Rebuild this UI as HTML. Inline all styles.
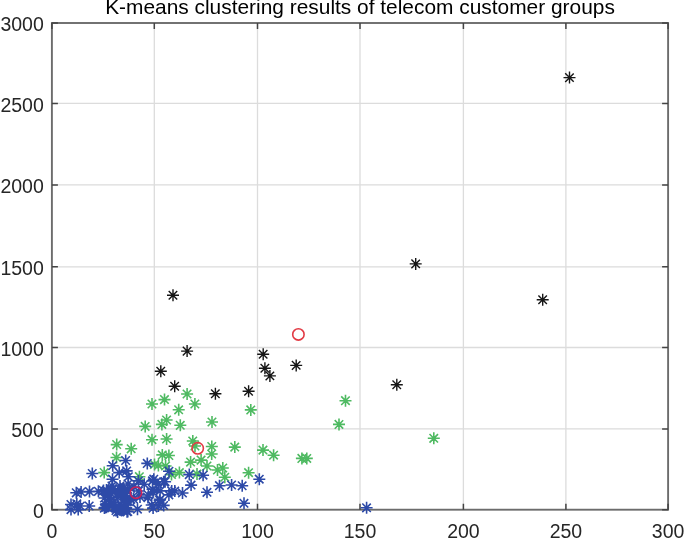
<!DOCTYPE html>
<html><head><meta charset="utf-8"><style>
html,body{margin:0;padding:0;background:#fff;}
body{width:685px;height:539px;overflow:hidden;}
svg{display:block;}
text{font-family:"Liberation Sans",Arial,sans-serif;}
</style></head><body>
<svg width="685" height="539" viewBox="0 0 685 539">
<rect width="685" height="539" fill="#fff"/>
<path d="M154.3 23.0V509.7M257.5 23.0V509.7M360.0 23.0V509.7M463.4 23.0V509.7M565.9 23.0V509.7M51.9 428.9H668.1M51.9 347.5H668.1M51.9 266.8H668.1M51.9 184.9H668.1M51.9 103.4H668.1" stroke="#dcdcdc" stroke-width="1.3" fill="none"/>
<rect x="51.9" y="23.0" width="616.2" height="486.7" fill="none" stroke="#6c6c6c" stroke-width="1.9"/>
<path d="M51.9 509.7v-6M51.9 23.0v6M154.3 509.7v-6M154.3 23.0v6M257.5 509.7v-6M257.5 23.0v6M360.0 509.7v-6M360.0 23.0v6M463.4 509.7v-6M463.4 23.0v6M565.9 509.7v-6M565.9 23.0v6M668.1 509.7v-6M668.1 23.0v6M51.9 509.7h6M668.1 509.7h-6M51.9 428.9h6M668.1 428.9h-6M51.9 347.5h6M668.1 347.5h-6M51.9 266.8h6M668.1 266.8h-6M51.9 184.9h6M668.1 184.9h-6M51.9 103.4h6M668.1 103.4h-6M51.9 23.0h6M668.1 23.0h-6" stroke="#444" stroke-width="1.5" fill="none"/>
<path d="M563.5 77.6h12.0M569.5 71.6v12.0M565.2 73.3l8.5 8.5M565.2 81.9l8.5 -8.5M409.7 263.9h12.0M415.7 257.9v12.0M411.4 259.6l8.5 8.5M411.4 268.2l8.5 -8.5M536.7 299.7h12.0M542.7 293.7v12.0M538.4 295.4l8.5 8.5M538.4 304.0l8.5 -8.5M167.0 295.3h12.0M173.0 289.3v12.0M168.7 291.0l8.5 8.5M168.7 299.6l8.5 -8.5M181.1 351.1h12.0M187.1 345.1v12.0M182.8 346.8l8.5 8.5M182.8 355.4l8.5 -8.5M257.2 354.2h12.0M263.2 348.2v12.0M258.9 349.9l8.5 8.5M258.9 358.5l8.5 -8.5M290.2 365.4h12.0M296.2 359.4v12.0M291.9 361.1l8.5 8.5M291.9 369.7l8.5 -8.5M154.8 371.2h12.0M160.8 365.2v12.0M156.5 366.9l8.5 8.5M156.5 375.5l8.5 -8.5M258.9 368.2h12.0M264.9 362.2v12.0M260.6 363.9l8.5 8.5M260.6 372.5l8.5 -8.5M263.9 375.9h12.0M269.9 369.9v12.0M265.6 371.6l8.5 8.5M265.6 380.2l8.5 -8.5M168.7 386.2h12.0M174.7 380.2v12.0M170.4 381.9l8.5 8.5M170.4 390.5l8.5 -8.5M209.4 393.8h12.0M215.4 387.8v12.0M211.1 389.5l8.5 8.5M211.1 398.1l8.5 -8.5M242.6 391.2h12.0M248.6 385.2v12.0M244.3 386.9l8.5 8.5M244.3 395.5l8.5 -8.5M390.8 384.7h12.0M396.8 378.7v12.0M392.5 380.4l8.5 8.5M392.5 389.0l8.5 -8.5" stroke="#161616" stroke-width="1.4" fill="none"/>
<path d="M339.5 400.7h12.0M345.5 394.7v12.0M341.2 396.4l8.5 8.5M341.2 405.0l8.5 -8.5M333.0 424.4h12.0M339.0 418.4v12.0M334.7 420.1l8.5 8.5M334.7 428.7l8.5 -8.5M427.8 438.3h12.0M433.8 432.3v12.0M429.5 434.0l8.5 8.5M429.5 442.6l8.5 -8.5M181.1 394.0h12.0M187.1 388.0v12.0M182.8 389.7l8.5 8.5M182.8 398.3l8.5 -8.5M158.5 399.6h12.0M164.5 393.6v12.0M160.2 395.3l8.5 8.5M160.2 403.9l8.5 -8.5M146.0 404.0h12.0M152.0 398.0v12.0M147.7 399.7l8.5 8.5M147.7 408.3l8.5 -8.5M188.9 404.0h12.0M194.9 398.0v12.0M190.6 399.7l8.5 8.5M190.6 408.3l8.5 -8.5M172.7 409.8h12.0M178.7 403.8v12.0M174.4 405.5l8.5 8.5M174.4 414.1l8.5 -8.5M244.8 409.9h12.0M250.8 403.9v12.0M246.5 405.6l8.5 8.5M246.5 414.2l8.5 -8.5M160.6 420.0h12.0M166.6 414.0v12.0M162.3 415.7l8.5 8.5M162.3 424.3l8.5 -8.5M155.9 424.4h12.0M161.9 418.4v12.0M157.6 420.1l8.5 8.5M157.6 428.7l8.5 -8.5M139.2 426.4h12.0M145.2 420.4v12.0M140.9 422.1l8.5 8.5M140.9 430.7l8.5 -8.5M174.3 425.3h12.0M180.3 419.3v12.0M176.0 421.0l8.5 8.5M176.0 429.6l8.5 -8.5M206.0 422.0h12.0M212.0 416.0v12.0M207.7 417.7l8.5 8.5M207.7 426.3l8.5 -8.5M146.0 439.7h12.0M152.0 433.7v12.0M147.7 435.4l8.5 8.5M147.7 444.0l8.5 -8.5M160.6 439.0h12.0M166.6 433.0v12.0M162.3 434.7l8.5 8.5M162.3 443.3l8.5 -8.5M186.8 441.0h12.0M192.8 435.0v12.0M188.5 436.7l8.5 8.5M188.5 445.3l8.5 -8.5M205.8 446.5h12.0M211.8 440.5v12.0M207.5 442.2l8.5 8.5M207.5 450.8l8.5 -8.5M228.8 447.1h12.0M234.8 441.1v12.0M230.5 442.8l8.5 8.5M230.5 451.4l8.5 -8.5M257.0 450.1h12.0M263.0 444.1v12.0M258.7 445.8l8.5 8.5M258.7 454.4l8.5 -8.5M267.6 455.2h12.0M273.6 449.2v12.0M269.3 450.9l8.5 8.5M269.3 459.5l8.5 -8.5M295.9 458.4h12.0M301.9 452.4v12.0M297.6 454.1l8.5 8.5M297.6 462.7l8.5 -8.5M300.8 458.4h12.0M306.8 452.4v12.0M302.5 454.1l8.5 8.5M302.5 462.7l8.5 -8.5M110.7 444.6h12.0M116.7 438.6v12.0M112.4 440.3l8.5 8.5M112.4 448.9l8.5 -8.5M125.2 448.8h12.0M131.2 442.8v12.0M126.9 444.5l8.5 8.5M126.9 453.1l8.5 -8.5M110.5 457.5h12.0M116.5 451.5v12.0M112.2 453.2l8.5 8.5M112.2 461.8l8.5 -8.5M98.2 472.6h12.0M104.2 466.6v12.0M99.9 468.3l8.5 8.5M99.9 476.9l8.5 -8.5M133.4 476.7h12.0M139.4 470.7v12.0M135.1 472.4l8.5 8.5M135.1 481.0l8.5 -8.5M156.3 454.9h12.0M162.3 448.9v12.0M158.0 450.6l8.5 8.5M158.0 459.2l8.5 -8.5M162.9 455.5h12.0M168.9 449.5v12.0M164.6 451.2l8.5 8.5M164.6 459.8l8.5 -8.5M184.6 462.1h12.0M190.6 456.1v12.0M186.3 457.8l8.5 8.5M186.3 466.4l8.5 -8.5M195.1 460.1h12.0M201.1 454.1v12.0M196.8 455.8l8.5 8.5M196.8 464.4l8.5 -8.5M201.0 466.0h12.0M207.0 460.0v12.0M202.7 461.7l8.5 8.5M202.7 470.3l8.5 -8.5M205.7 454.0h12.0M211.7 448.0v12.0M207.4 449.7l8.5 8.5M207.4 458.3l8.5 -8.5M211.5 470.0h12.0M217.5 464.0v12.0M213.2 465.7l8.5 8.5M213.2 474.3l8.5 -8.5M216.8 468.0h12.0M222.8 462.0v12.0M218.5 463.7l8.5 8.5M218.5 472.3l8.5 -8.5M218.8 477.2h12.0M224.8 471.2v12.0M220.5 472.9l8.5 8.5M220.5 481.5l8.5 -8.5M152.4 465.4h12.0M158.4 459.4v12.0M154.1 461.1l8.5 8.5M154.1 469.7l8.5 -8.5M159.6 466.0h12.0M165.6 460.0v12.0M161.3 461.7l8.5 8.5M161.3 470.3l8.5 -8.5M173.4 472.6h12.0M179.4 466.6v12.0M175.1 468.3l8.5 8.5M175.1 476.9l8.5 -8.5M165.5 474.6h12.0M171.5 468.6v12.0M167.2 470.3l8.5 8.5M167.2 478.9l8.5 -8.5M242.6 472.7h12.0M248.6 466.7v12.0M244.3 468.4l8.5 8.5M244.3 477.0l8.5 -8.5M148.5 464.5h12.0M154.5 458.5v12.0M150.2 460.2l8.5 8.5M150.2 468.8l8.5 -8.5M189.0 446.0h12.0M195.0 440.0v12.0M190.7 441.7l8.5 8.5M190.7 450.3l8.5 -8.5M191.0 474.0h12.0M197.0 468.0v12.0M192.7 469.7l8.5 8.5M192.7 478.3l8.5 -8.5" stroke="#4fba62" stroke-width="1.6" fill="none"/>
<path d="M360.6 507.8h12.0M366.6 501.8v12.0M362.3 503.5l8.5 8.5M362.3 512.1l8.5 -8.5M253.3 479.2h12.0M259.3 473.2v12.0M255.0 474.9l8.5 8.5M255.0 483.5l8.5 -8.5M225.6 485.0h12.0M231.6 479.0v12.0M227.3 480.7l8.5 8.5M227.3 489.3l8.5 -8.5M236.2 485.8h12.0M242.2 479.8v12.0M237.9 481.5l8.5 8.5M237.9 490.1l8.5 -8.5M238.0 503.3h12.0M244.0 497.3v12.0M239.7 499.0l8.5 8.5M239.7 507.6l8.5 -8.5M141.3 463.4h12.0M147.3 457.4v12.0M143.0 459.1l8.5 8.5M143.0 467.7l8.5 -8.5M163.0 471.2h12.0M169.0 465.2v12.0M164.7 466.9l8.5 8.5M164.7 475.5l8.5 -8.5M183.3 474.6h12.0M189.3 468.6v12.0M185.0 470.3l8.5 8.5M185.0 478.9l8.5 -8.5M197.1 475.2h12.0M203.1 469.2v12.0M198.8 470.9l8.5 8.5M198.8 479.5l8.5 -8.5M185.1 485.1h12.0M191.1 479.1v12.0M186.8 480.8l8.5 8.5M186.8 489.4l8.5 -8.5M213.5 485.7h12.0M219.5 479.7v12.0M215.2 481.4l8.5 8.5M215.2 490.0l8.5 -8.5M201.0 492.3h12.0M207.0 486.3v12.0M202.7 488.0l8.5 8.5M202.7 496.6l8.5 -8.5M168.8 491.0h12.0M174.8 485.0v12.0M170.5 486.7l8.5 8.5M170.5 495.3l8.5 -8.5M176.5 493.0h12.0M182.5 487.0v12.0M178.2 488.7l8.5 8.5M178.2 497.3l8.5 -8.5M147.8 479.2h12.0M153.8 473.2v12.0M149.5 474.9l8.5 8.5M149.5 483.5l8.5 -8.5M152.4 484.4h12.0M158.4 478.4v12.0M154.1 480.1l8.5 8.5M154.1 488.7l8.5 -8.5M157.7 481.8h12.0M163.7 475.8v12.0M159.4 477.5l8.5 8.5M159.4 486.1l8.5 -8.5M147.1 492.3h12.0M153.1 486.3v12.0M148.8 488.0l8.5 8.5M148.8 496.6l8.5 -8.5M153.7 500.2h12.0M159.7 494.2v12.0M155.4 495.9l8.5 8.5M155.4 504.5l8.5 -8.5M147.1 508.1h12.0M153.1 502.1v12.0M148.8 503.8l8.5 8.5M148.8 512.4l8.5 -8.5M157.7 505.4h12.0M163.7 499.4v12.0M159.4 501.1l8.5 8.5M159.4 509.7l8.5 -8.5M162.9 494.9h12.0M168.9 488.9v12.0M164.6 490.6l8.5 8.5M164.6 499.2l8.5 -8.5M141.9 497.6h12.0M147.9 491.6v12.0M143.6 493.3l8.5 8.5M143.6 501.9l8.5 -8.5M119.7 460.5h12.0M125.7 454.5v12.0M121.4 456.2l8.5 8.5M121.4 464.8l8.5 -8.5M106.7 465.7h12.0M112.7 459.7v12.0M108.4 461.4l8.5 8.5M108.4 470.0l8.5 -8.5M86.3 473.5h12.0M92.3 467.5v12.0M88.0 469.2l8.5 8.5M88.0 477.8l8.5 -8.5M120.7 470.9h12.0M126.7 464.9v12.0M122.4 466.6l8.5 8.5M122.4 475.2l8.5 -8.5M113.2 472.6h12.0M119.2 466.6v12.0M114.9 468.3l8.5 8.5M114.9 476.9l8.5 -8.5M106.5 479.2h12.0M112.5 473.2v12.0M108.2 474.9l8.5 8.5M108.2 483.5l8.5 -8.5M122.4 476.7h12.0M128.4 470.7v12.0M124.1 472.4l8.5 8.5M124.1 481.0l8.5 -8.5M70.3 492.8h12.0M76.3 486.8v12.0M72.0 488.5l8.5 8.5M72.0 497.1l8.5 -8.5M75.1 492.0h12.0M81.1 486.0v12.0M76.8 487.7l8.5 8.5M76.8 496.3l8.5 -8.5M83.5 491.6h12.0M89.5 485.6v12.0M85.2 487.3l8.5 8.5M85.2 495.9l8.5 -8.5M92.4 491.3h12.0M98.4 485.3v12.0M94.1 487.0l8.5 8.5M94.1 495.6l8.5 -8.5M97.5 490.6h12.0M103.5 484.6v12.0M99.2 486.3l8.5 8.5M99.2 494.9l8.5 -8.5M65.0 504.5h12.0M71.0 498.5v12.0M66.7 500.2l8.5 8.5M66.7 508.8l8.5 -8.5M70.8 503.8h12.0M76.8 497.8v12.0M72.5 499.5l8.5 8.5M72.5 508.1l8.5 -8.5M74.4 506.0h12.0M80.4 500.0v12.0M76.1 501.7l8.5 8.5M76.1 510.3l8.5 -8.5M65.0 509.6h12.0M71.0 503.6v12.0M66.7 505.3l8.5 8.5M66.7 513.9l8.5 -8.5M72.2 509.6h12.0M78.2 503.6v12.0M73.9 505.3l8.5 8.5M73.9 513.9l8.5 -8.5M83.2 506.0h12.0M89.2 500.0v12.0M84.9 501.7l8.5 8.5M84.9 510.3l8.5 -8.5M100.0 505.0h12.0M106.0 499.0v12.0M101.7 500.7l8.5 8.5M101.7 509.3l8.5 -8.5M98.5 498.0h12.0M104.5 492.0v12.0M100.2 493.7l8.5 8.5M100.2 502.3l8.5 -8.5M99.0 507.5h12.0M105.0 501.5v12.0M100.7 503.2l8.5 8.5M100.7 511.8l8.5 -8.5M132.4 480.9h12.0M138.4 474.9v12.0M134.1 476.6l8.5 8.5M134.1 485.2l8.5 -8.5M146.5 480.9h12.0M152.5 474.9v12.0M148.2 476.6l8.5 8.5M148.2 485.2l8.5 -8.5M159.1 481.7h12.0M165.1 475.7v12.0M160.8 477.4l8.5 8.5M160.8 486.0l8.5 -8.5M146.5 489.2h12.0M152.5 483.2v12.0M148.2 484.9l8.5 8.5M148.2 493.5l8.5 -8.5M154.1 490.9h12.0M160.1 484.9v12.0M155.8 486.6l8.5 8.5M155.8 495.2l8.5 -8.5M165.7 490.9h12.0M171.7 484.9v12.0M167.4 486.6l8.5 8.5M167.4 495.2l8.5 -8.5M142.4 495.0h12.0M148.4 489.0v12.0M144.1 490.7l8.5 8.5M144.1 499.3l8.5 -8.5M154.1 499.2h12.0M160.1 493.2v12.0M155.8 494.9l8.5 8.5M155.8 503.5l8.5 -8.5M145.7 505.0h12.0M151.7 499.0v12.0M147.4 500.7l8.5 8.5M147.4 509.3l8.5 -8.5M152.4 505.9h12.0M158.4 499.9v12.0M154.1 501.6l8.5 8.5M154.1 510.2l8.5 -8.5M131.5 509.2h12.0M137.5 503.2v12.0M133.2 504.9l8.5 8.5M133.2 513.5l8.5 -8.5M120.7 505.0h12.0M126.7 499.0v12.0M122.4 500.7l8.5 8.5M122.4 509.3l8.5 -8.5M138.2 484.2h12.0M144.2 478.2v12.0M139.9 479.9l8.5 8.5M139.9 488.5l8.5 -8.5M104.4 501.1h12.0M110.4 495.1v12.0M106.1 496.8l8.5 8.5M106.1 505.4l8.5 -8.5M108.0 502.5h12.0M114.0 496.5v12.0M109.7 498.2l8.5 8.5M109.7 506.8l8.5 -8.5M114.9 489.6h12.0M120.9 483.6v12.0M116.6 485.3l8.5 8.5M116.6 493.9l8.5 -8.5M98.4 508.1h12.0M104.4 502.1v12.0M100.1 503.8l8.5 8.5M100.1 512.4l8.5 -8.5M105.0 493.6h12.0M111.0 487.6v12.0M106.7 489.3l8.5 8.5M106.7 497.9l8.5 -8.5M124.9 499.3h12.0M130.9 493.3v12.0M126.6 495.0l8.5 8.5M126.6 503.6l8.5 -8.5M120.6 499.4h12.0M126.6 493.4v12.0M122.3 495.1l8.5 8.5M122.3 503.7l8.5 -8.5M115.3 491.6h12.0M121.3 485.6v12.0M117.0 487.3l8.5 8.5M117.0 495.9l8.5 -8.5M115.1 508.8h12.0M121.1 502.8v12.0M116.8 504.5l8.5 8.5M116.8 513.1l8.5 -8.5M112.1 505.8h12.0M118.1 499.8v12.0M113.8 501.5l8.5 8.5M113.8 510.1l8.5 -8.5M116.1 489.5h12.0M122.1 483.5v12.0M117.8 485.2l8.5 8.5M117.8 493.8l8.5 -8.5M118.5 502.2h12.0M124.5 496.2v12.0M120.2 497.9l8.5 8.5M120.2 506.5l8.5 -8.5M106.1 488.7h12.0M112.1 482.7v12.0M107.8 484.4l8.5 8.5M107.8 493.0l8.5 -8.5M121.4 499.3h12.0M127.4 493.3v12.0M123.1 495.0l8.5 8.5M123.1 503.6l8.5 -8.5M117.4 509.1h12.0M123.4 503.1v12.0M119.1 504.8l8.5 8.5M119.1 513.4l8.5 -8.5M117.3 510.1h12.0M123.3 504.1v12.0M119.0 505.8l8.5 8.5M119.0 514.4l8.5 -8.5M108.7 507.2h12.0M114.7 501.2v12.0M110.4 502.9l8.5 8.5M110.4 511.5l8.5 -8.5M110.0 510.5h12.0M116.0 504.5v12.0M111.7 506.2l8.5 8.5M111.7 514.8l8.5 -8.5M121.7 490.3h12.0M127.7 484.3v12.0M123.4 486.0l8.5 8.5M123.4 494.6l8.5 -8.5M101.7 493.2h12.0M107.7 487.2v12.0M103.4 488.9l8.5 8.5M103.4 497.5l8.5 -8.5M124.1 498.5h12.0M130.1 492.5v12.0M125.8 494.2l8.5 8.5M125.8 502.8l8.5 -8.5M114.9 495.2h12.0M120.9 489.2v12.0M116.6 490.9l8.5 8.5M116.6 499.5l8.5 -8.5M111.7 497.3h12.0M117.7 491.3v12.0M113.4 493.0l8.5 8.5M113.4 501.6l8.5 -8.5M107.5 502.0h12.0M113.5 496.0v12.0M109.2 497.7l8.5 8.5M109.2 506.3l8.5 -8.5M113.8 509.7h12.0M119.8 503.7v12.0M115.5 505.4l8.5 8.5M115.5 514.0l8.5 -8.5M116.4 510.3h12.0M122.4 504.3v12.0M118.1 506.0l8.5 8.5M118.1 514.6l8.5 -8.5M121.1 511.8h12.0M127.1 505.8v12.0M122.8 507.5l8.5 8.5M122.8 516.1l8.5 -8.5M116.1 491.9h12.0M122.1 485.9v12.0M117.8 487.6l8.5 8.5M117.8 496.2l8.5 -8.5M121.2 511.2h12.0M127.2 505.2v12.0M122.9 506.9l8.5 8.5M122.9 515.5l8.5 -8.5M122.4 501.7h12.0M128.4 495.7v12.0M124.1 497.4l8.5 8.5M124.1 506.0l8.5 -8.5M117.3 493.1h12.0M123.3 487.1v12.0M119.0 488.8l8.5 8.5M119.0 497.4l8.5 -8.5M120.5 501.8h12.0M126.5 495.8v12.0M122.2 497.5l8.5 8.5M122.2 506.1l8.5 -8.5M105.7 489.5h12.0M111.7 483.5v12.0M107.4 485.2l8.5 8.5M107.4 493.8l8.5 -8.5M121.1 511.8h12.0M127.1 505.8v12.0M122.8 507.5l8.5 8.5M122.8 516.1l8.5 -8.5M100.4 507.2h12.0M106.4 501.2v12.0M102.1 502.9l8.5 8.5M102.1 511.5l8.5 -8.5M109.1 491.6h12.0M115.1 485.6v12.0M110.8 487.3l8.5 8.5M110.8 495.9l8.5 -8.5M105.9 506.5h12.0M111.9 500.5v12.0M107.6 502.2l8.5 8.5M107.6 510.8l8.5 -8.5M121.6 489.1h12.0M127.6 483.1v12.0M123.3 484.8l8.5 8.5M123.3 493.4l8.5 -8.5M114.6 489.1h12.0M120.6 483.1v12.0M116.3 484.8l8.5 8.5M116.3 493.4l8.5 -8.5M117.4 495.9h12.0M123.4 489.9v12.0M119.1 491.6l8.5 8.5M119.1 500.2l8.5 -8.5M121.8 511.5h12.0M127.8 505.5v12.0M123.5 507.2l8.5 8.5M123.5 515.8l8.5 -8.5M111.6 512.0h12.0M117.6 506.0v12.0M113.3 507.7l8.5 8.5M113.3 516.3l8.5 -8.5M106.4 489.8h12.0M112.4 483.8v12.0M108.1 485.5l8.5 8.5M108.1 494.1l8.5 -8.5M114.2 488.8h12.0M120.2 482.8v12.0M115.9 484.5l8.5 8.5M115.9 493.1l8.5 -8.5M103.3 497.8h12.0M109.3 491.8v12.0M105.0 493.5l8.5 8.5M105.0 502.1l8.5 -8.5M132.5 491.0h12.0M138.5 485.0v12.0M134.2 486.7l8.5 8.5M134.2 495.3l8.5 -8.5M134.0 497.0h12.0M140.0 491.0v12.0M135.7 492.7l8.5 8.5M135.7 501.3l8.5 -8.5M128.0 487.0h12.0M134.0 481.0v12.0M129.7 482.7l8.5 8.5M129.7 491.3l8.5 -8.5M127.5 499.0h12.0M133.5 493.0v12.0M129.2 494.7l8.5 8.5M129.2 503.3l8.5 -8.5M106.0 486.0h12.0M112.0 480.0v12.0M107.7 481.7l8.5 8.5M107.7 490.3l8.5 -8.5M114.0 486.0h12.0M120.0 480.0v12.0M115.7 481.7l8.5 8.5M115.7 490.3l8.5 -8.5M122.0 484.0h12.0M128.0 478.0v12.0M123.7 479.7l8.5 8.5M123.7 488.3l8.5 -8.5M100.5 490.0h12.0M106.5 484.0v12.0M102.2 485.7l8.5 8.5M102.2 494.3l8.5 -8.5" stroke="#2d4aa8" stroke-width="1.6" fill="none"/>
<g fill="none" stroke="#e23a44" stroke-width="1.6"><circle cx="298.4" cy="334.4" r="5.7"/><circle cx="197.7" cy="448.3" r="5.7"/><circle cx="136.0" cy="492.7" r="5.7" stroke="#cc2058"/></g>
<g font-size="19.5" fill="#262626"><text x="51.9" y="537.6" text-anchor="middle">0</text><text x="154.3" y="537.6" text-anchor="middle">50</text><text x="257.5" y="537.6" text-anchor="middle">100</text><text x="360.0" y="537.6" text-anchor="middle">150</text><text x="463.4" y="537.6" text-anchor="middle">200</text><text x="565.9" y="537.6" text-anchor="middle">250</text><text x="668.1" y="537.6" text-anchor="middle">300</text><text x="43.8" y="518.0" text-anchor="end">0</text><text x="43.8" y="437.2" text-anchor="end">500</text><text x="43.8" y="355.8" text-anchor="end">1000</text><text x="43.8" y="275.1" text-anchor="end">1500</text><text x="43.8" y="193.2" text-anchor="end">2000</text><text x="43.8" y="111.7" text-anchor="end">2500</text><text x="43.8" y="31.3" text-anchor="end">3000</text></g>
<text x="360.0" y="14.1" text-anchor="middle" font-size="20.9" fill="#000">K-means clustering results of telecom customer groups</text>
</svg>
</body></html>
